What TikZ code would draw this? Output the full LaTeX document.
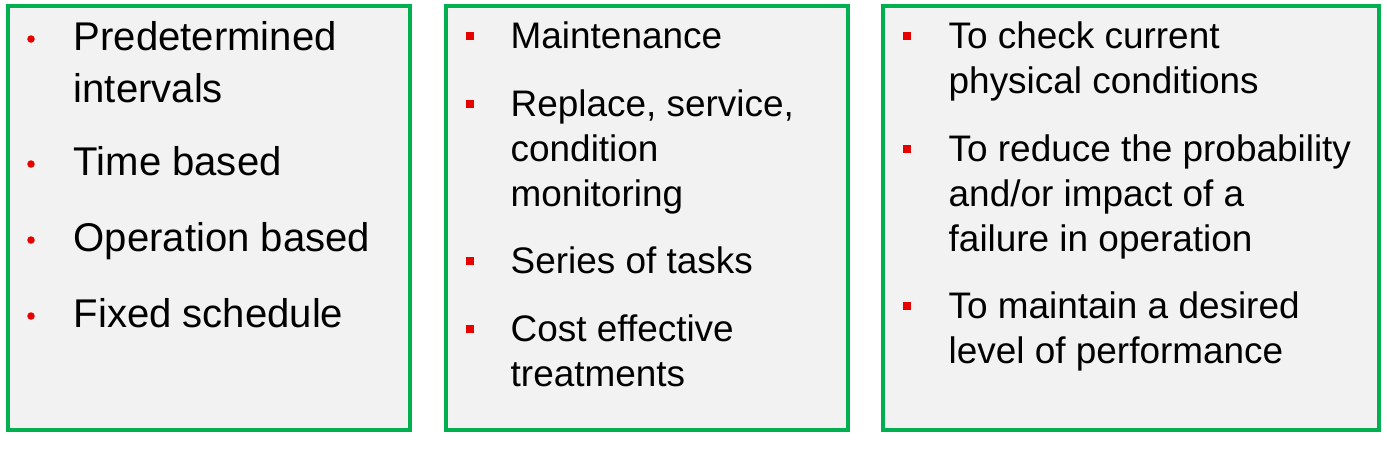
\documentclass[tikz,border=0pt]{standalone}
\usepackage{fontspec}
\setmainfont{Liberation Sans}
\definecolor{bgreen}{RGB}{0,176,80}
\definecolor{bgray}{RGB}{242,242,242}
\definecolor{bred}{RGB}{230,0,0}
\begin{document}
\begin{tikzpicture}[x=0.01cm,y=-0.01cm,
  panel/.style={draw=bgreen,line width=1.2pt,fill=bgray},
  txt/.style={anchor=mid west,inner sep=0pt,font=\fontsize{10.5pt}{12.8pt}\selectfont},
  txtb/.style={txt,font=\fontsize{11.4pt}{13.5pt}\selectfont},
  dotb/.style={circle,fill=bred,inner sep=0pt,minimum size=0.075cm},
  sqb/.style={rectangle,fill=bred,inner sep=0pt,minimum size=0.08cm}]
\useasboundingbox (0,0) rectangle (1387,453);
\draw[panel] (8,6) rectangle (410,430);
\draw[panel] (446,6) rectangle (848,430);
\draw[panel] (883,6) rectangle (1379,430);
% panel 1
\foreach \y/\t/\b [count=\i] in {41/Predetermined/1,93/intervals/0,166/Time based/1,242/Operation based/1,318/Fixed schedule/1}{
  \node[txtb] (a\i) at (73,\y) {\t};
  \ifnum\b=1 \node[dotb] (ab\i) at (31,\y-2) {};\fi
}
% panel 2
\foreach \y/\t/\b [count=\i] in {39/Maintenance/1,107/{Replace, service,}/1,152/condition/0,197/monitoring/0,264/Series of tasks/1,332/Cost effective/1,377/treatments/0}{
  \node[txt] (b\i) at (510,\y) {\t};
  \ifnum\b=1 \node[sqb] (bb\i) at (470,\y-3) {};\fi
}
% panel 3
\foreach \y/\t/\b [count=\i] in {39/To check current/1,84/physical conditions/0,152/To reduce the probability/1,197/{and/or impact of a}/0,242/failure in operation/0,309/To maintain a desired/1,354/level of performance/0}{
  \node[txt] (c\i) at (948,\y) {\t};
  \ifnum\b=1 \node[sqb] (cb\i) at (907,\y-3) {};\fi
}
\end{tikzpicture}
\end{document}
